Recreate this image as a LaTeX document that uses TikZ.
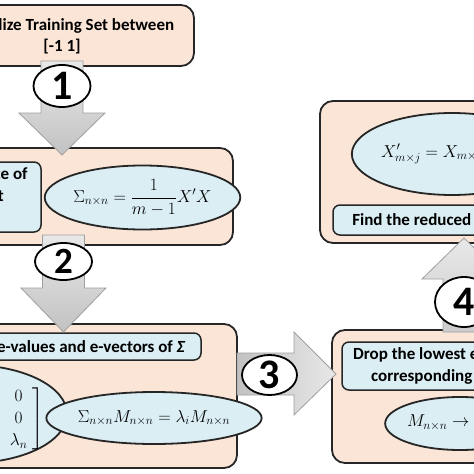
\documentclass[tikz,border=0pt]{standalone}
\usepackage{amsmath}
\usepackage{fontspec}
\setmainfont{Carlito}
\usetikzlibrary{shapes.geometric}
\definecolor{peach}{HTML}{FBE5D6}
\definecolor{paleblue}{HTML}{DAEEF3}
\definecolor{edge}{HTML}{262626}
\begin{document}
\begin{tikzpicture}[x=1pt,y=-1pt,
  outerbox/.style={draw=edge, line width=1.8pt, fill=peach, rounded corners=13pt, inner sep=0pt},
  barbox/.style={draw=edge, line width=1.5pt, fill=paleblue, rounded corners=7pt, inner sep=0pt},
  boxtext/.style={font=\fontsize{17}{21.5}\selectfont\bfseries, align=center, inner sep=0pt},
  bubble/.style={ellipse, draw=edge, line width=1.8pt, fill=paleblue, inner sep=0pt, font=\fontsize{17}{22}\selectfont},
  stepnum/.style={ellipse, draw=black, line width=1.8pt, fill=white, inner sep=0pt, font=\fontsize{42}{42}\selectfont\bfseries},
  downarrow/.style={draw=gray!75, line width=0.8pt, top color=gray!18, bottom color=gray!48},
  rightarrow/.style={draw=gray!75, line width=0.8pt, left color=gray!48, right color=gray!18},
  uparrow/.style={draw=gray!75, line width=0.8pt, bottom color=gray!40, top color=gray!18},
]
\useasboundingbox (0,0) rectangle (474,474);
\clip (0,0) rectangle (474,474);

% step boxes
\node[outerbox, minimum width=264pt, minimum height=61pt] (norm) at (62,35.5) {};
\node[boxtext] (normtext) at (62,36.5) {Normalize Training Set between\\{}[-1 1]};

\node[outerbox, minimum width=353pt, minimum height=97pt] (covbox) at (56.5,196.5) {};
\node[barbox, minimum width=157pt, minimum height=70pt] (covbar) at (-37.5,197) {};
\node[boxtext] (covtext) at (-37.5,186) {Find Covariance of\\Training Set};
\node[bubble, minimum width=163pt, minimum height=64pt] (sigma) at (142.5,197.5)
  {$\displaystyle\Sigma_{n\times n}=\frac{1}{m-1}X'X$};

\node[outerbox, minimum width=357pt, minimum height=144pt] (eigbox) at (58.5,396) {};
\node[barbox, minimum width=281pt, minimum height=27pt] (eigbar) at (60.5,346.5) {};
\node[boxtext] (eigtext) at (60.5,347) {Find the e-values and e-vectors of \textit{Σ}};
\node[bubble, minimum width=194pt, minimum height=98pt] (lam) at (-30,414) {};
\node[anchor=east, inner sep=0pt, font=\fontsize{17}{22}\selectfont] (lammat) at (44,419)
  {$\Lambda_{n\times n}=\left[\begin{array}{ccc}\lambda_1&0&0\\0&\ddots&0\\0&0&\lambda_n\end{array}\right]$};
\node[bubble, minimum width=164pt, minimum height=52pt] (eig) at (154,418)
  {$\Sigma_{n\times n}M_{n\times n}=\lambda_i M_{n\times n}$};

\node[outerbox, minimum width=248pt, minimum height=133pt] (dropbox) at (456,396.5) {};
\node[barbox, minimum width=228pt, minimum height=48pt] (dropbar) at (456,366) {};
\node[boxtext] (droptext) at (456,366) {Drop the lowest e-values and\\corresponding e-vectors};
\node[bubble, minimum width=126pt, minimum height=53pt] (mred) at (460,423.5)
  {$M_{n\times n}\rightarrow M_{n\times j}$};

\node[outerbox, minimum width=270pt, minimum height=142pt] (redbox) at (455,172) {};
\node[bubble, minimum width=156pt, minimum height=82pt] (xred) at (452,154)
  {$X'_{m\times j}=X_{m\times n}M_{n\times j}$};
\node[barbox, minimum width=244pt, minimum height=30pt] (redbar) at (455,220) {};
\node[boxtext] (redtext) at (455,220.5) {Find the reduced Training Set};

% block arrows
\draw[downarrow] (41,61) -- (83,61) -- (83,113) -- (105,113) -- (62,155) -- (19,113) -- (41,113) -- cycle;
\draw[downarrow] (42.5,235) -- (84.5,235) -- (84.5,288) -- (106,288) -- (63.5,332) -- (21,288) -- (42.5,288) -- cycle;
\draw[rightarrow] (237,353) -- (294,353) -- (294,332) -- (336,374) -- (294,415) -- (294,395) -- (237,395) -- cycle;
\draw[uparrow] (443,332) -- (443,279) -- (422,279) -- (464,238) -- (506,279) -- (485,279) -- (485,332) -- cycle;

% step numbers
\node[stepnum, minimum width=57pt, minimum height=42pt] (s1) at (62,86) {1};
\node[stepnum, minimum width=57pt, minimum height=37pt, font=\fontsize{37}{37}\selectfont\bfseries] (s2) at (63.5,261.5) {2};
\node[stepnum, minimum width=55pt, minimum height=40pt] (s3) at (269.5,375) {3};
\node[stepnum, minimum width=58pt, minimum height=50pt] (s4) at (464,302) {4};
\end{tikzpicture}
\end{document}
